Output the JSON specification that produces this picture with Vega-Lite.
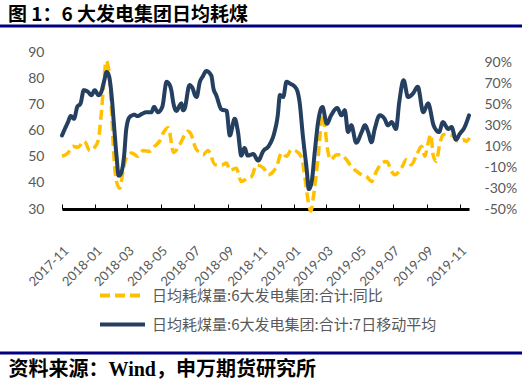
{
"$schema":"https://vega.github.io/schema/vega-lite/v6.json",
"width":407,"height":157,
"autosize":{"type":"none"},
"padding":{"left":62,"top":52,"right":53,"bottom":172},
"background":"white",
"config":{"view":{"stroke":null},"font":"Lato","axis":{"labelOverlap":false,"labelFlush":false},"axisX":{"labelOverlap":false},"legend":{"labelLimit":0}},
"title":{"text":"图 1：6 大发电集团日均耗煤","anchor":"start","frame":"group","dx":-54,"offset":-19.5,"baseline":"bottom","font":"Noto Sans CJK SC","fontSize":19,"fontWeight":"bold","color":"#000000"},
"data":{"values":[
{"s":"同比","d":"2017-11-01","v":0.3},{"s":"同比","d":"2017-11-12","v":3.6},{"s":"同比","d":"2017-11-21","v":9.9},{"s":"同比","d":"2017-11-30","v":9},{"s":"同比","d":"2017-12-12","v":14.7},{"s":"同比","d":"2017-12-22","v":5.8},{"s":"同比","d":"2017-12-30","v":8.4},{"s":"同比","d":"2018-01-06","v":14.7},{"s":"同比","d":"2018-01-12","v":40.4},{"s":"同比","d":"2018-01-17","v":72.4},{"s":"同比","d":"2018-01-21","v":91.6},{"s":"同比","d":"2018-01-26","v":82},{"s":"同比","d":"2018-01-31","v":43.6},{"s":"同比","d":"2018-02-04","v":1.9},{"s":"同比","d":"2018-02-09","v":-23.8},{"s":"同比","d":"2018-02-15","v":-30.1},{"s":"同比","d":"2018-02-21","v":-14.1},{"s":"同比","d":"2018-02-27","v":-1.3},{"s":"同比","d":"2018-03-09","v":3.6},{"s":"同比","d":"2018-03-20","v":0.3},{"s":"同比","d":"2018-03-30","v":5.8},{"s":"同比","d":"2018-04-11","v":5.1},{"s":"同比","d":"2018-04-20","v":9.9},{"s":"同比","d":"2018-04-29","v":14.7},{"s":"同比","d":"2018-05-07","v":23.8},{"s":"同比","d":"2018-05-15","v":27.6},{"s":"同比","d":"2018-05-25","v":4},{"s":"同比","d":"2018-06-05","v":11.5},{"s":"同比","d":"2018-06-20","v":24.3},{"s":"同比","d":"2018-06-26","v":21.2},{"s":"同比","d":"2018-07-04","v":8.4},{"s":"同比","d":"2018-07-12","v":3.6},{"s":"同比","d":"2018-07-18","v":1.9},{"s":"同比","d":"2018-07-27","v":6},{"s":"同比","d":"2018-08-09","v":-7.7},{"s":"同比","d":"2018-08-21","v":-8},{"s":"同比","d":"2018-08-30","v":-6},{"s":"同比","d":"2018-09-05","v":-13},{"s":"同比","d":"2018-09-17","v":-11},{"s":"同比","d":"2018-09-26","v":-23.8},{"s":"同比","d":"2018-10-09","v":-20},{"s":"同比","d":"2018-10-15","v":-18.9},{"s":"同比","d":"2018-10-24","v":-8},{"s":"同比","d":"2018-11-06","v":-10.9},{"s":"同比","d":"2018-11-15","v":-17.3},{"s":"同比","d":"2018-11-21","v":-15.7},{"s":"同比","d":"2018-11-30","v":-9.3},{"s":"同比","d":"2018-12-09","v":3.6},{"s":"同比","d":"2018-12-18","v":0.3},{"s":"同比","d":"2018-12-27","v":6.7},{"s":"同比","d":"2019-01-09","v":3.6},{"s":"同比","d":"2019-01-15","v":-1.3},{"s":"同比","d":"2019-01-21","v":-20.5},{"s":"同比","d":"2019-01-27","v":-43},{"s":"同比","d":"2019-02-01","v":-52},{"s":"同比","d":"2019-02-05","v":-39.7},{"s":"同比","d":"2019-02-14","v":-1.3},{"s":"同比","d":"2019-02-22","v":40.4},{"s":"同比","d":"2019-02-26","v":30.8},{"s":"同比","d":"2019-03-03","v":8.4},{"s":"同比","d":"2019-03-09","v":-2.9},{"s":"同比","d":"2019-03-20","v":1.9},{"s":"同比","d":"2019-03-29","v":1.9},{"s":"同比","d":"2019-04-07","v":-2.9},{"s":"同比","d":"2019-04-16","v":-9.3},{"s":"同比","d":"2019-04-26","v":-14.1},{"s":"同比","d":"2019-05-05","v":-17.3},{"s":"同比","d":"2019-05-14","v":-18.9},{"s":"同比","d":"2019-05-23","v":-23.8},{"s":"同比","d":"2019-06-01","v":-14.1},{"s":"同比","d":"2019-06-11","v":-6.1},{"s":"同比","d":"2019-06-20","v":-4.5},{"s":"同比","d":"2019-06-29","v":-14.1},{"s":"同比","d":"2019-07-05","v":-17.3},{"s":"同比","d":"2019-07-17","v":-10.9},{"s":"同比","d":"2019-07-26","v":-2.9},{"s":"同比","d":"2019-08-04","v":-7.7},{"s":"同比","d":"2019-08-14","v":1.9},{"s":"同比","d":"2019-08-23","v":9.9},{"s":"同比","d":"2019-08-29","v":0.3},{"s":"同比","d":"2019-09-04","v":13.2},{"s":"同比","d":"2019-09-09","v":21.2},{"s":"同比","d":"2019-09-13","v":1.9},{"s":"同比","d":"2019-09-19","v":-4.5},{"s":"同比","d":"2019-09-25","v":11.5},{"s":"同比","d":"2019-10-02","v":21.2},{"s":"同比","d":"2019-10-11","v":21.2},{"s":"同比","d":"2019-10-20","v":19.5},{"s":"同比","d":"2019-10-29","v":14.7},{"s":"同比","d":"2019-11-07","v":16.3},{"s":"同比","d":"2019-11-13","v":14.7},{"s":"同比","d":"2019-11-19","v":18},
{"s":"7日移动平均","d":"2017-11-01","v":58.1},{"s":"7日移动平均","d":"2017-11-06","v":60.5},{"s":"7日移动平均","d":"2017-11-12","v":63.2},{"s":"7日移动平均","d":"2017-11-17","v":65.5},{"s":"7日移动平均","d":"2017-11-23","v":64.5},{"s":"7日移动平均","d":"2017-11-29","v":69},{"s":"7日移动平均","d":"2017-12-05","v":70.3},{"s":"7日移动平均","d":"2017-12-11","v":75.4},{"s":"7日移动平均","d":"2017-12-19","v":74.7},{"s":"7日移动平均","d":"2017-12-25","v":73.5},{"s":"7日移动平均","d":"2017-12-31","v":75.4},{"s":"7日移动平均","d":"2018-01-07","v":73.5},{"s":"7日移动平均","d":"2018-01-12","v":74.7},{"s":"7日移动平均","d":"2018-01-17","v":78.6},{"s":"7日移动平均","d":"2018-01-22","v":82.4},{"s":"7日移动平均","d":"2018-01-26","v":81},{"s":"7日移动平均","d":"2018-01-31","v":73.5},{"s":"7日移动平均","d":"2018-02-04","v":63.2},{"s":"7日移动平均","d":"2018-02-09","v":50.4},{"s":"7日移动平均","d":"2018-02-13","v":42.7},{"s":"7日移动平均","d":"2018-02-18","v":44},{"s":"7日移动平均","d":"2018-02-23","v":50.4},{"s":"7日移动平均","d":"2018-02-27","v":60.6},{"s":"7日移动平均","d":"2018-03-05","v":65.1},{"s":"7日移动平均","d":"2018-03-14","v":66},{"s":"7日移动平均","d":"2018-03-20","v":65.5},{"s":"7日移动平均","d":"2018-03-28","v":66.4},{"s":"7日移动平均","d":"2018-04-05","v":67},{"s":"7日移动平均","d":"2018-04-14","v":67},{"s":"7日移动平均","d":"2018-04-19","v":69},{"s":"7日移动平均","d":"2018-04-26","v":67},{"s":"7日移动平均","d":"2018-05-04","v":69},{"s":"7日移动平均","d":"2018-05-12","v":78.6},{"s":"7日移动平均","d":"2018-05-16","v":78},{"s":"7日移动平均","d":"2018-05-21","v":75},{"s":"7日移动平均","d":"2018-05-24","v":70.9},{"s":"7日移动平均","d":"2018-05-30","v":67.5},{"s":"7日移动平均","d":"2018-06-05","v":69.6},{"s":"7日移动平均","d":"2018-06-08","v":70.3},{"s":"7日移动平均","d":"2018-06-11","v":67.7},{"s":"7日移动平均","d":"2018-06-14","v":68.3},{"s":"7日移动平均","d":"2018-06-23","v":77.3},{"s":"7日移动平均","d":"2018-06-29","v":76},{"s":"7日移动平均","d":"2018-07-03","v":73.5},{"s":"7日移动平均","d":"2018-07-06","v":72.8},{"s":"7日移动平均","d":"2018-07-12","v":78.6},{"s":"7日移动平均","d":"2018-07-17","v":80.5},{"s":"7日移动平均","d":"2018-07-24","v":82.7},{"s":"7日移动平均","d":"2018-08-02","v":81},{"s":"7日移动平均","d":"2018-08-06","v":76},{"s":"7日移动平均","d":"2018-08-11","v":73.5},{"s":"7日移动平均","d":"2018-08-21","v":68},{"s":"7日移动平均","d":"2018-08-30","v":67.5},{"s":"7日移动平均","d":"2018-09-05","v":58.1},{"s":"7日移动平均","d":"2018-09-14","v":64.5},{"s":"7日移动平均","d":"2018-09-20","v":59.4},{"s":"7日移动平均","d":"2018-09-26","v":50.4},{"s":"7日移动平均","d":"2018-10-02","v":53.3},{"s":"7日移动平均","d":"2018-10-08","v":50.4},{"s":"7日移动平均","d":"2018-10-18","v":51},{"s":"7日移动平均","d":"2018-10-27","v":48.5},{"s":"7日移动平均","d":"2018-11-05","v":52},{"s":"7日移动平均","d":"2018-11-17","v":54.6},{"s":"7日移动平均","d":"2018-11-26","v":59.4},{"s":"7日移动平均","d":"2018-12-02","v":65.8},{"s":"7日移动平均","d":"2018-12-06","v":73.5},{"s":"7日移动平均","d":"2018-12-12","v":72.8},{"s":"7日移动平均","d":"2018-12-18","v":78.6},{"s":"7日移动平均","d":"2018-12-24","v":78},{"s":"7日移动平均","d":"2019-01-05","v":76},{"s":"7日移动平均","d":"2019-01-11","v":70.9},{"s":"7日移动平均","d":"2019-01-17","v":58.1},{"s":"7日移动平均","d":"2019-01-24","v":45.3},{"s":"7日移动平均","d":"2019-01-28","v":37.6},{"s":"7日移动平均","d":"2019-02-02","v":40.1},{"s":"7日移动平均","d":"2019-02-08","v":52},{"s":"7日移动平均","d":"2019-02-14","v":63.2},{"s":"7日移动平均","d":"2019-02-22","v":69},{"s":"7日移动平均","d":"2019-03-02","v":62.6},{"s":"7日移动平均","d":"2019-03-10","v":65.8},{"s":"7日移动平均","d":"2019-03-21","v":68.6},{"s":"7日移动平均","d":"2019-03-29","v":65.8},{"s":"7日移动平均","d":"2019-04-04","v":67.7},{"s":"7日移动平均","d":"2019-04-10","v":59.4},{"s":"7日移动平均","d":"2019-04-16","v":62},{"s":"7日移动平均","d":"2019-04-25","v":55.3},{"s":"7日移动平均","d":"2019-05-05","v":59.4},{"s":"7日移动平均","d":"2019-05-11","v":62},{"s":"7日移动平均","d":"2019-05-17","v":59.4},{"s":"7日移动平均","d":"2019-05-23","v":55.5},{"s":"7日移动平均","d":"2019-05-29","v":60.6},{"s":"7日移动平均","d":"2019-06-07","v":65.8},{"s":"7日移动平均","d":"2019-06-16","v":64.5},{"s":"7日移动平均","d":"2019-06-22","v":62},{"s":"7日移动平均","d":"2019-06-29","v":63.2},{"s":"7日移动平均","d":"2019-07-07","v":60.6},{"s":"7日移动平均","d":"2019-07-13","v":70.9},{"s":"7日移动平均","d":"2019-07-21","v":79.2},{"s":"7日移动平均","d":"2019-07-29","v":72.8},{"s":"7日移动平均","d":"2019-08-07","v":74.1},{"s":"7日移动平均","d":"2019-08-16","v":76.7},{"s":"7日移动平均","d":"2019-08-26","v":67},{"s":"7日移动平均","d":"2019-09-04","v":70.3},{"s":"7日移动平均","d":"2019-09-14","v":62},{"s":"7日移动平均","d":"2019-09-24","v":59.4},{"s":"7日移动平均","d":"2019-10-01","v":63.2},{"s":"7日移动平均","d":"2019-10-11","v":60.6},{"s":"7日移动平均","d":"2019-10-17","v":61.3},{"s":"7日移动平均","d":"2019-10-25","v":56.5},{"s":"7日移动平均","d":"2019-11-01","v":58.7},{"s":"7日移动平均","d":"2019-11-10","v":61.3},{"s":"7日移动平均","d":"2019-11-18","v":65.8}
]},
"encoding":{
  "x":{"field":"d","type":"temporal","scale":{"type":"utc","domain":[{"year":2017,"month":11,"date":1,"utc":true},{"year":2019,"month":11,"date":18,"utc":true}]},
   "axis":{"values":[{"year":2017,"month":11,"date":1,"utc":true},{"year":2018,"month":1,"date":1,"utc":true},{"year":2018,"month":3,"date":1,"utc":true},{"year":2018,"month":5,"date":1,"utc":true},{"year":2018,"month":7,"date":1,"utc":true},{"year":2018,"month":9,"date":1,"utc":true},{"year":2018,"month":11,"date":1,"utc":true},{"year":2019,"month":1,"date":1,"utc":true},{"year":2019,"month":3,"date":1,"utc":true},{"year":2019,"month":5,"date":1,"utc":true},{"year":2019,"month":7,"date":1,"utc":true},{"year":2019,"month":9,"date":1,"utc":true},{"year":2019,"month":11,"date":1,"utc":true}],
    "format":"%Y-%m","labelAngle":-45,"labelFont":"Lato","labelFontSize":13,"labelColor":"#595959","labelPadding":40,"labelOverlap":false,"labelFlush":false,"labelSeparation":-100,
    "domainColor":"#000000","domainWidth":3,"tickColor":"#000000","tickSize":-5,"tickWidth":1,"grid":false,
    "title":"资料来源：Wind，申万期货研究所","titleX":-54,"titleY":160,"titleAlign":"left","titleAnchor":"start","titleBaseline":"middle","titleFont":"'Liberation Serif', 'Noto Sans CJK SC'","titleFontSize":20,"titleFontWeight":"bold","titleColor":"#000000"}}
},
"layer":[
{"transform":[{"filter":"datum.s === '同比'"}],
 "mark":{"type":"line","strokeWidth":3.5,"interpolate":"monotone"},
 "encoding":{
  "y":{"field":"v","type":"quantitative","scale":{"domain":[-50,100],"nice":false,"zero":false},
   "axis":{"orient":"right","values":[-50,-30,-10,10,30,50,70,90],"labelExpr":"datum.value + '%'","domain":false,"ticks":false,"tickSize":0,"grid":false,"labelPadding":15,"labelFont":"Lato","labelFontSize":14,"labelColor":"#595959","title":null}},
  "color":{"field":"s","type":"nominal","scale":{"domain":["同比","7日移动平均"],"range":["#FFC000","#243F60"]},
   "legend":{"title":null,"orient":"none","legendX":36,"legendY":236,"symbolType":"stroke","symbolSize":2025,"symbolStrokeWidth":4,"clipHeight":15,"rowPadding":13,"labelOffset":5,"labelFontSize":15,"labelFont":"Noto Sans CJK SC","labelColor":"#595959","labelLimit":0,"padding":0,"labelExpr":"'日均耗煤量:6大发电集团:合计:' + datum.label"}},
  "strokeDash":{"field":"s","type":"nominal","scale":{"domain":["同比","7日移动平均"],"range":[[10,5],[1,0]]},
   "legend":{"title":null,"orient":"none","legendX":36,"legendY":236,"symbolType":"stroke","symbolSize":2025,"symbolStrokeWidth":4,"clipHeight":15,"rowPadding":13,"labelOffset":5,"labelFontSize":15,"labelFont":"Noto Sans CJK SC","labelColor":"#595959","labelLimit":0,"padding":0,"labelExpr":"'日均耗煤量:6大发电集团:合计:' + datum.label"}}
 }},
{"transform":[{"filter":"datum.s === '7日移动平均'"}],
 "mark":{"type":"line","strokeWidth":4,"interpolate":"monotone","strokeCap":"round","strokeJoin":"round"},
 "encoding":{
  "y":{"field":"v","type":"quantitative","scale":{"domain":[30,90],"nice":false,"zero":false},
   "axis":{"orient":"left","values":[30,40,50,60,70,80,90],"domain":false,"ticks":false,"tickSize":0,"grid":false,"labelPadding":18,"labelFont":"Lato","labelFontSize":14,"labelColor":"#595959","title":null}},
  "color":{"field":"s","type":"nominal"},
  "strokeDash":{"field":"s","type":"nominal"}
 }},
{"data":{"values":[{}]},
 "mark":{"type":"rule","color":"#000080","strokeWidth":3},
 "encoding":{"x":{"value":-62},"x2":{"value":460},"y":{"value":-26}}},
{"data":{"values":[{}]},
 "mark":{"type":"rule","color":"#000080","strokeWidth":3},
 "encoding":{"x":{"value":-62},"x2":{"value":460},"y":{"value":301}}}
],
"resolve":{"scale":{"y":"independent"}}
}
